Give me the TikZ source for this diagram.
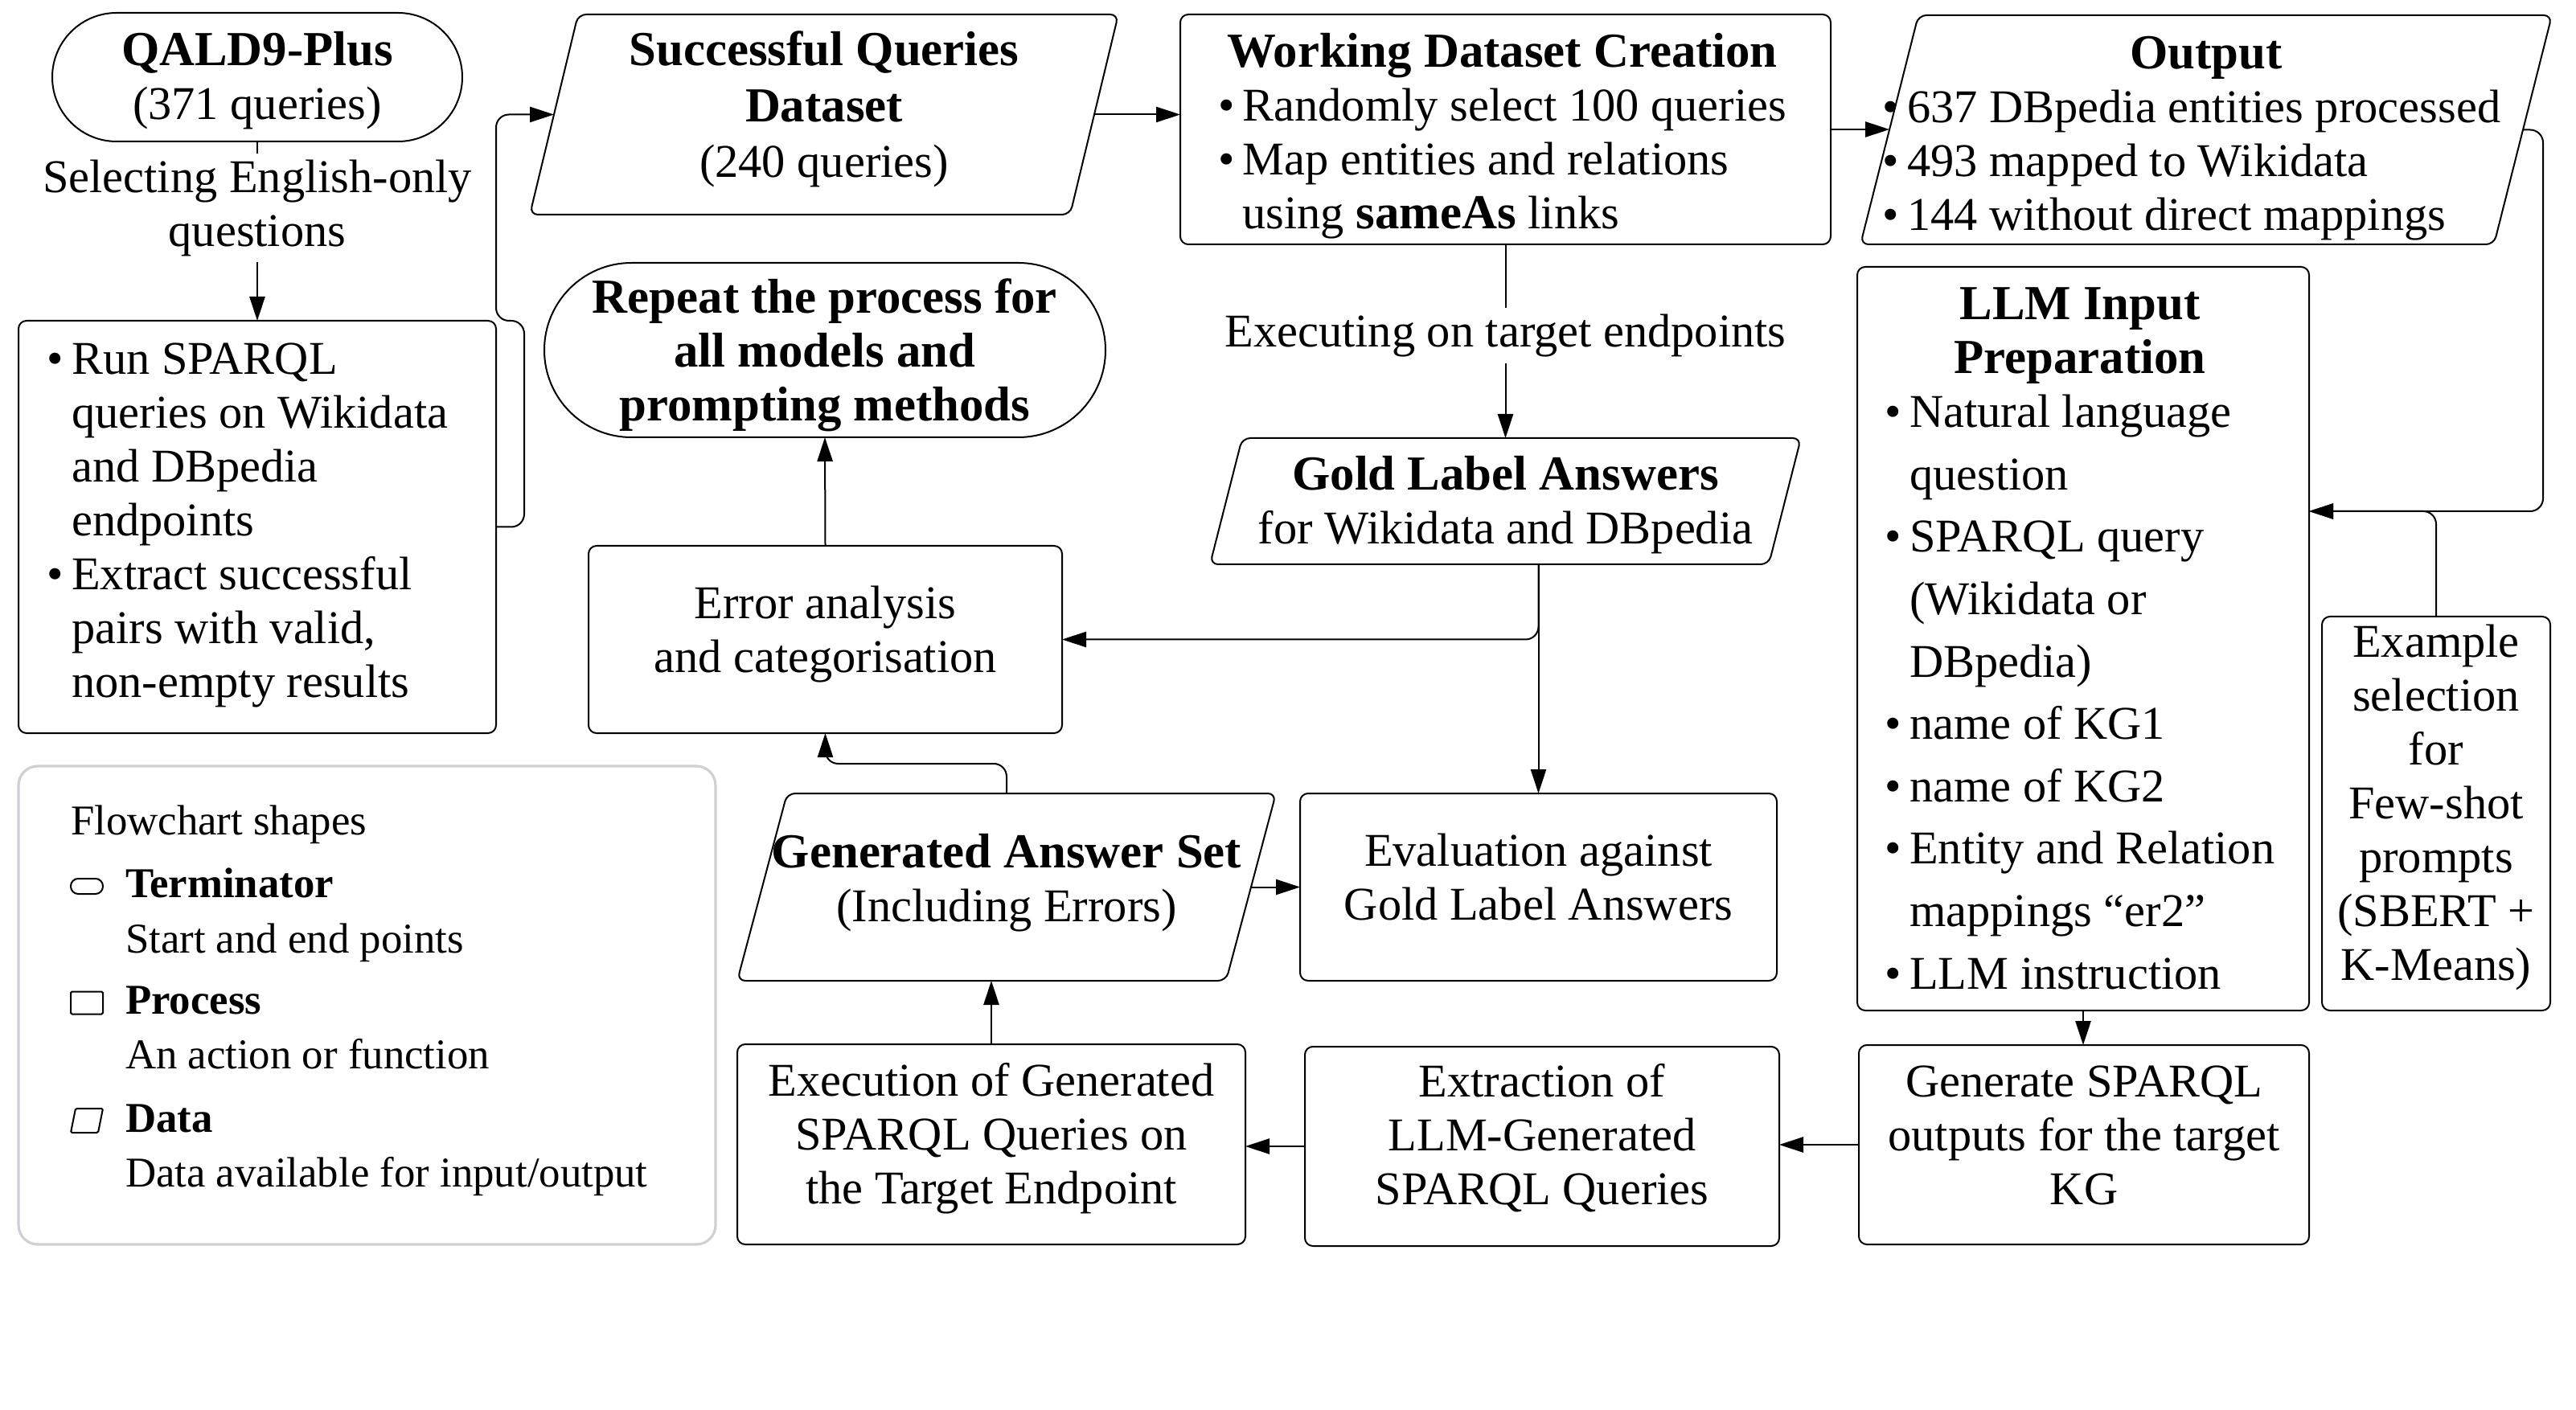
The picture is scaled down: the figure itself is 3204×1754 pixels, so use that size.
\documentclass[tikz,border=0pt]{standalone}
\usepackage{fontspec}
\setmainfont{Liberation Serif}
\usetikzlibrary{arrows.meta,calc}
\definecolor{legendgray}{RGB}{205,209,213}
\newcommand{\bi}{\textbullet\hspace{2.5pt}}
\newcommand{\bj}{\hphantom{\textbullet}\hspace{2.5pt}}
\newcommand{\tbf}[1]{{\fontsize{15.2pt}{16.75pt}\selectfont\bfseries #1}}
\newcommand{\tshift}[2]{\raisebox{#1}[\height][\depth]{#2}}
\newcommand{\datashape}[2]{\draw[shapeline] ([xshift=#2]#1.north west) -- ([xshift=#2]#1.north east) -- ([xshift=-#2]#1.south east) -- ([xshift=-#2]#1.south west) -- cycle;}
\begin{document}
\begin{tikzpicture}[x=0.25pt,y=-0.25pt,
  every node/.style={inner sep=0pt, outer sep=0pt},
  mainfont/.style={font=\fontsize{14.6pt}{16.75pt}\selectfont},
  procbox/.style={draw, line width=0.5pt, rounded corners=2.5pt, mainfont, align=center},
  termbox/.style={draw, line width=0.5pt, mainfont, align=center},
  datanode/.style={mainfont, align=center},
  shapeline/.style={line width=0.5pt, rounded corners=2.5pt},
  arr/.style={line width=0.5pt, -{Triangle[length=7.5pt,width=4.8pt]}},
  lbl/.style={mainfont, fill=white, align=center, inner sep=2pt},
  legtext/.style={font=\fontsize{13.2pt}{16pt}\selectfont, anchor=base west},
]
\useasboundingbox (0,0) rectangle (3204,1754);

% ---------- nodes ----------
\node[termbox, minimum width=127.5pt, minimum height=40pt, rounded corners=20pt] (qald) at (320,96)
  {\tshift{-1.5pt}{\begin{tabular}{@{}c@{}}\tbf{QALD9-Plus}\\(371 queries)\end{tabular}}};

\node[procbox, minimum width=148.5pt, minimum height=128.25pt] (box1) at (320,655.5)
  {\hspace*{-6pt}\tshift{0.5pt}{\begin{tabular}{@{}l@{}}\bi Run SPARQL\\ \bj queries on Wikidata\\ \bj and DBpedia\\ \bj endpoints\\ \bi Extract successful\\ \bj pairs with valid,\\ \bj non-empty results\end{tabular}}};

\node[datanode, minimum width=168pt, minimum height=62.25pt] (succ) at (1025,142.5)
  {\tshift{1.2pt}{\begin{tabular}{@{}c@{}}\tbf{Successful Queries}\\[0.6pt]\tbf{Dataset}\\[0.6pt](240 queries)\end{tabular}}};
\datashape{succ}{7.5pt}

\node[procbox, minimum width=202.25pt, minimum height=71.5pt] (work) at (1872.5,161)
  {\hspace*{-2pt}\tshift{-2.5pt}{\begin{tabular}{@{}l@{}}\multicolumn{1}{@{}c@{}}{\tbf{Working Dataset Creation}}\\ \bi Randomly select 100 queries\\ \bi Map entities and relations\\ \bj using \tbf{sameAs} links\end{tabular}}};

\node[datanode, minimum width=197pt, minimum height=71.25pt] (out) at (2744,161.5)
  {\hspace*{-9pt}\tshift{-2.8pt}{\begin{tabular}{@{}l@{}}\multicolumn{1}{@{}c@{}}{\hspace*{9pt}\tbf{Output}}\\ \bi 637 DBpedia entities processed\\ \bi 493 mapped to Wikidata\\ \bi 144 without direct mappings\end{tabular}}};
\datashape{out}{9pt}

\node[termbox, minimum width=174.5pt, minimum height=54.25pt, rounded corners=27.1pt] (rep) at (1026,435.5)
  {\tshift{-2pt}{\begin{tabular}{@{}c@{}}\tbf{Repeat the process for}\\\tbf{all models and}\\\tbf{prompting methods}\end{tabular}}};

\node[datanode, minimum width=173.75pt, minimum height=39.25pt] (gold) at (1872.5,623.5)
  {\tshift{-1.5pt}{\begin{tabular}{@{}c@{}}\tbf{Gold Label Answers}\\for Wikidata and DBpedia\end{tabular}}};
\datashape{gold}{5pt}

\node[procbox, minimum width=140.5pt, minimum height=231.25pt] (llm) at (2591,794.5)
  {\hspace*{-2pt}\tshift{-1.5pt}{\begin{tabular}{@{}l@{}}\multicolumn{1}{@{}c@{}}{\tbf{LLM Input}}\\
   \multicolumn{1}{@{}c@{}}{\tbf{Preparation}}\\
   \bi Natural language\\[2.65pt]
   \bj question\\[2.65pt]
   \bi SPARQL query\\[2.65pt]
   \bj (Wikidata or\\[2.65pt]
   \bj DBpedia)\\[2.65pt]
   \bi name of KG1\\[2.65pt]
   \bi name of KG2\\[2.65pt]
   \bi Entity and Relation\\[2.65pt]
   \bj mappings “er2”\\[2.65pt]
   \bi LLM instruction\end{tabular}}};

\node[procbox, minimum width=71pt, minimum height=122.5pt] (ex) at (3030,1012)
  {\tshift{1.8pt}{\begin{tabular}{@{}c@{}}Example\\selection\\for\\Few-shot\\prompts\\(SBERT +\\K-Means)\end{tabular}}};

\node[procbox, minimum width=147.25pt, minimum height=58.25pt] (err) at (1026.5,795.5)
  {\tshift{1.5pt}{\begin{tabular}{@{}c@{}}Error analysis\\and categorisation\end{tabular}}};

\node[datanode, minimum width=152pt, minimum height=58.25pt] (gen) at (1252,1103.5)
  {\tshift{1pt}{\begin{tabular}{@{}c@{}}\tbf{Generated Answer Set}\\(Including Errors)\end{tabular}}};
\datashape{gen}{7.75pt}

\node[procbox, minimum width=148.25pt, minimum height=58.25pt] (eval) at (1913.5,1103.5)
  {\tshift{1.5pt}{\begin{tabular}{@{}c@{}}Evaluation against\\Gold Label Answers\end{tabular}}};

\node[procbox, minimum width=158pt, minimum height=62.25pt] (exec) at (1233,1423.5)
  {\tshift{1.5pt}{\begin{tabular}{@{}c@{}}Execution of Generated\\SPARQL Queries on\\the Target Endpoint\end{tabular}}};

\node[procbox, minimum width=147.5pt, minimum height=62pt] (ext) at (1918,1426)
  {\tshift{2pt}{\begin{tabular}{@{}c@{}}Extraction of\\LLM-Generated\\SPARQL Queries\end{tabular}}};

\node[procbox, minimum width=140pt, minimum height=62pt] (gsp) at (2592,1424)
  {\tshift{1.5pt}{\begin{tabular}{@{}c@{}}Generate SPARQL\\outputs for the target\\KG\end{tabular}}};

% ---------- legend ----------
\node[draw=legendgray, line width=0.8pt, rounded corners=6pt, minimum width=216.75pt, minimum height=148.75pt] (legend) at (456.5,1250.5) {};
\node[legtext] (lflow) at (88,1038) {Flowchart shapes};
\node[draw, line width=0.5pt, rounded corners=2.3pt, minimum width=10pt, minimum height=4.75pt] (iconterm) at (108,1102.5) {};
\node[legtext] (lterm) at (156,1116) {\textbf{Terminator}};
\node[legtext] (lterm2) at (156,1185) {Start and end points};
\node[draw, line width=0.5pt, rounded corners=0.4pt, minimum width=10pt, minimum height=7pt] (iconproc) at (108,1247.5) {};
\node[legtext] (lproc) at (156,1261) {\textbf{Process}};
\node[legtext] (lproc2) at (156,1329) {An action or function};
\node[minimum width=8.5pt, minimum height=7.5pt] (icondata) at (108,1394) {};
\draw[line width=0.5pt, rounded corners=0.4pt] ([xshift=0.75pt]icondata.north west) -- ([xshift=0.75pt]icondata.north east) -- ([xshift=-0.75pt]icondata.south east) -- ([xshift=-0.75pt]icondata.south west) -- cycle;
\node[legtext] (ldata) at (156,1408) {\textbf{Data}};
\node[legtext] (ldata2) at (156,1476) {Data available for input/output};

% ---------- connectors ----------
\draw[arr] (qald) -- node[lbl, pos=0.37] (lsel) {Selecting English-only\\questions} (box1);
\draw[arr, rounded corners=4pt] (box1.east) -- ++(35,0) |- (box1.north east) |- (succ.west);
\draw[arr] (succ.east) -- (succ.east -| work.west);
\draw[arr] (work.east) -- (work.east -| out.west);
\draw[arr] (work.south) -- node[lbl, pos=0.47] (lexec) {Executing on target endpoints} (gold.north);
\coordinate (gj) at (gold.south -| eval.north);
\draw[arr] (gj) -- (eval.north);
\draw[arr, rounded corners=4pt] (gj) |- (err.east);
\draw[arr] (err.north) -- (rep.south);
\draw[arr, rounded corners=4pt] (gen.north) -- ++(0,-37) -| (err.south);
\draw[arr] (gen.east) -- (gen.east -| eval.west);
\draw[arr] (exec.north) -- (exec.north |- gen.south);
\draw[arr] (ext.west) -- (ext.west -| exec.east);
\draw[arr] (gsp.west) -- (gsp.west -| ext.east);
\draw[arr] (llm.south) -- (llm.south |- gsp.north);
\coordinate (llmin) at ([yshift=-76pt]llm.north east);
\draw[arr, rounded corners=4pt] (out.east) -- ++(25,0) |- (llmin);
\draw[arr, rounded corners=4pt] (ex.north) |- (llmin);
\end{tikzpicture}
\end{document}
